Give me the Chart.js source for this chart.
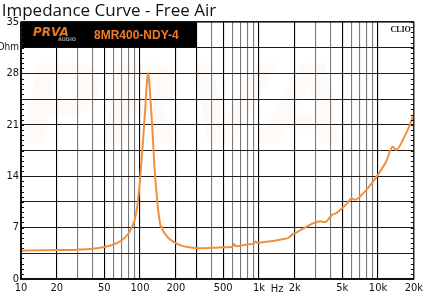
<!DOCTYPE html>
<html>
<head>
<meta charset="utf-8">
<script src="https://cdn.jsdelivr.net/npm/chart.js@4.4.0/dist/chart.umd.min.js"></script>
<style>
html, body { margin: 0; padding: 0; background: #fff; }
</style>
</head>
<body>
<canvas id="chart" width="426" height="293"></canvas>
<script>
// impedance curve
const freqs = [10, 15, 20, 30, 40, 50, 60, 70, 80, 85, 90, 95, 100, 104, 108, 111, 114, 117,
  120, 123, 127, 132, 138, 145, 150, 152, 155, 165, 178, 200, 215, 250, 300, 350, 436, 500,
  600, 620, 640, 700, 826, 900, 938, 960, 1200, 1500, 1780, 1920, 2000, 2150, 2500, 2870,
  3270, 3600, 4080, 4500, 4950, 5500, 6000, 6400, 6800, 8250, 9700, 11700, 13300, 14200,
  16700, 18500, 20000];
const impedance = [3.85, 3.9, 3.95, 4.0, 4.12, 4.35, 4.7, 5.25, 6.2, 7.0, 8.0, 10.0, 13.5, 17,
  20.7, 23.5, 26.5, 28.1, 26.5, 24, 20.5, 15.5, 11.5, 8.3, 7.1, 7.2, 6.7, 6.0, 5.4, 4.9, 4.65,
  4.35, 4.2, 4.2, 4.27, 4.32, 4.4, 4.75, 4.45, 4.55, 4.72, 4.85, 5.1, 4.95, 5.1, 5.35, 5.65,
  6.1, 6.2, 6.5, 7.1, 7.6, 7.85, 7.75, 8.7, 9.0, 9.6, 10.3, 11.0, 10.8, 11.0, 12.4, 13.9, 16.0,
  18.0, 17.6, 19.4, 21, 22.5];

const yTicks = [0, 3.5, 7, 10.5, 14, 17.5, 21, 24.5, 28, 31.5, 35];
const xGrid = [10, 20, 30, 40, 50, 60, 70, 80, 90, 100, 200, 300, 400, 500, 600, 700, 800, 900,
  1000, 2000, 3000, 4000, 5000, 6000, 7000, 8000, 9000, 10000, 20000];
const xLabels = [10, 20, 50, 100, 200, 500, 1000, 2000, 5000, 10000, 20000];
const darkLines = [20, 50, 100, 200, 300, 500, 1000, 2000, 5000, 10000];

const tickFamily = "'Liberation Sans Narrow', 'DejaVu Sans Condensed', sans-serif";
const tickFont = { family: tickFamily, size: 11 };
const orange = '#F0903E';

const decor = {
  id: 'decor',
  beforeDraw(chart) {
    const c = chart.ctx, a = chart.chartArea;
    c.save();
    c.fillStyle = '#fff';
    c.fillRect(0, 0, chart.width, chart.height);
    // faint watermark
    c.beginPath();
    c.rect(a.left, a.top, a.right - a.left, a.bottom - a.top);
    c.clip();
    c.fillStyle = 'rgba(245, 150, 90, 0.05)';
    c.font = "italic bold 110px 'DejaVu Sans'";
    c.textBaseline = 'middle';
    c.fillText('PRVA', 20, 115);
    c.restore();
  },
  afterDatasetsDraw(chart) {
    const c = chart.ctx, a = chart.chartArea;
    const x = chart.scales.x, y = chart.scales.y;
    c.save();
    // header box
    const bx2 = x.getPixelForValue(300), by2 = y.getPixelForValue(31.5);
    c.fillStyle = '#000';
    c.fillRect(a.left, a.top, bx2 - a.left, by2 - a.top);
    c.fillStyle = '#E8781F';
    c.font = "italic bold 12px 'DejaVu Sans'";
    c.textBaseline = 'alphabetic';
    c.fillText('PRVA', 33, 36);
    c.fillStyle = '#999';
    c.font = "bold 5px 'DejaVu Sans'";
    c.fillText('AUDIO', 58, 41);
    c.fillStyle = '#F07C2A';
    c.font = "bold 12px 'Liberation Sans'";
    c.textBaseline = 'middle';
    c.fillText('8MR400-NDY-4', 94, 36);
    // CLIO
    c.fillStyle = '#111';
    c.font = "bold 8px 'Liberation Serif'";
    c.textAlign = 'right';
    c.fillText('CLIO', a.right - 3, 30);
    // Hz
    c.font = "11px " + tickFamily;
    c.textAlign = 'center';
    c.fillText('Hz', 277, 289);
    // minor ticks on both sides
    c.strokeStyle = '#111';
    c.lineWidth = 1;
    c.beginPath();
    for (let i = 0; i <= 50; i++) {
      const py = Math.round(y.getPixelForValue(i * 0.7)) + 0.5;
      c.moveTo(a.left, py); c.lineTo(a.left + 3, py);
      c.moveTo(a.right - 3, py); c.lineTo(a.right, py);
    }
    c.stroke();
    // frame
    c.lineWidth = 1.2;
    c.strokeRect(a.left, a.top, a.right - a.left, a.bottom - a.top);
    c.lineWidth = 2;
    c.beginPath();
    c.moveTo(a.left, a.top); c.lineTo(a.left, a.bottom); c.lineTo(a.right, a.bottom);
    c.stroke();
    c.restore();
  }
};

new Chart(document.getElementById('chart'), {
  type: 'line',
  data: {
    datasets: [{
      data: freqs.map((f, i) => ({ x: f, y: impedance[i] })),
      borderColor: orange,
      borderWidth: 2,
      pointRadius: 0,
      cubicInterpolationMode: 'monotone',
      fill: false
    }]
  },
  options: {
    responsive: false,
    animation: false,
    layout: { padding: { left: 0, right: 9, top: 0, bottom: 0 } },
    plugins: {
      legend: { display: false },
      tooltip: { enabled: false },
      title: {
        display: true,
        text: '\u200AImpedance Curve - Free Air',
        align: 'start',
        color: '#111',
        font: { family: "'Open Sans', sans-serif", size: 17, weight: 'normal', lineHeight: 1.2 },
        padding: { top: 1, bottom: 0.6 }
      }
    },
    scales: {
      x: {
        type: 'logarithmic',
        min: 10,
        max: 20000,
        afterBuildTicks: s => { s.ticks = xGrid.map(v => ({ value: v })); },
        afterFit: s => { s.height = 14; },
        grid: {
          drawTicks: false,
          color: ctx => darkLines.includes(ctx.tick.value) ? '#000' : '#7a7a7a',
          lineWidth: 1.1
        },
        border: { display: false },
        ticks: {
          autoSkip: false,
          maxRotation: 0,
          padding: 3,
          color: '#111',
          font: tickFont,
          callback: v => xLabels.includes(v) ? (v >= 1000 ? (v / 1000) + 'k' : String(v)) : ''
        }
      },
      y: {
        min: 0,
        max: 35,
        afterBuildTicks: s => { s.ticks = yTicks.map(v => ({ value: v })); },
        afterFit: s => { s.width = 21; },
        grid: { drawTicks: false, color: '#1c1c1c', lineWidth: 1.1 },
        border: { display: false },
        ticks: {
          padding: 2,
          color: '#111',
          font: ctx => ctx.tick && ctx.tick.value === 31.5 ? { family: tickFamily, size: 10 } : tickFont,
          callback: v => v % 7 === 0 ? String(v) : (v === 31.5 ? 'Ohm' : '')
        }
      }
    }
  },
  plugins: [decor]
});
</script>
</body>
</html>
